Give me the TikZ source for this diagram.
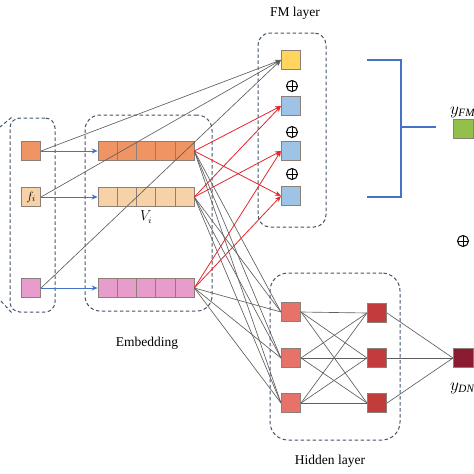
\documentclass[tikz,border=0pt]{standalone}
\usepackage{fontspec}
\setmainfont{Liberation Serif}
\usetikzlibrary{arrows.meta}
\definecolor{boxc}{HTML}{44546A}
\definecolor{cellb}{HTML}{8C7F78}
\definecolor{org}{HTML}{EE9563}
\definecolor{lorg}{HTML}{F6D2A6}
\definecolor{pnk}{HTML}{E79CCB}
\definecolor{ylw}{HTML}{FFD560}
\definecolor{blu}{HTML}{9DC3E6}
\definecolor{arrb}{HTML}{4472C4}
\definecolor{redl}{HTML}{E5262C}
\definecolor{h1c}{HTML}{E6726A}
\definecolor{h2c}{HTML}{C23C3C}
\definecolor{outc}{HTML}{8A1B30}
\definecolor{grn}{HTML}{92C04A}
\definecolor{grayl}{HTML}{5E5E5E}
\begin{document}
\begin{tikzpicture}[x=1pt,y=-1pt,
  sq/.style={draw=cellb, line width=0.6pt, minimum size=19.5pt, inner sep=0pt},
  vec/.style={draw=cellb, line width=0.6pt, minimum width=96pt, minimum height=19.5pt, inner sep=0pt,
    path picture={\foreach \k in {1,...,4}{\draw[cellb,line width=0.6pt] ([xshift=\k*19.2pt]path picture bounding box.north west) -- ([xshift=\k*19.2pt]path picture bounding box.south west);}}},
  dbox/.style={draw=boxc, line width=1pt, dash pattern=on 3.5pt off 2.5pt, inner sep=0pt},
  opl/.style={circle, draw=black, line width=1pt, minimum size=11pt, inner sep=0pt,
    path picture={\draw[line width=1pt] (path picture bounding box.north) -- (path picture bounding box.south) (path picture bounding box.west) -- (path picture bounding box.east);}},
  lbl/.style={font=\fontsize{13.5}{15}\selectfont, inner sep=0pt},
  gl/.style={draw=grayl, line width=0.65pt},
  rl/.style={draw=redl, line width=0.8pt, -{Stealth[length=6pt,width=5pt]}},
  bl/.style={draw=arrb, line width=0.9pt, -{Stealth[length=6pt,width=5pt]}},
]
\useasboundingbox (0,0) rectangle (474,474);
\clip (0,0) rectangle (474,474);

% dashed boxes
\node[dbox, rounded corners=10pt, minimum width=45pt, minimum height=194pt] (lbox) at (32.5,215) {};
\node[dbox, rounded corners=15pt, minimum width=127pt, minimum height=196pt] (ebox) at (148.5,213) {};
\node[dbox, rounded corners=12pt, minimum width=68pt, minimum height=194pt] (fbox) at (292,130) {};
\node[dbox, rounded corners=18pt, minimum width=130pt, minimum height=167pt] (hbox) at (335,356.5) {};
\coordinate (o1) at (0,127);
\coordinate (o2) at (0,300);
\draw[dbox] (lbox.north west) ++(2,0) -- (o1);
\draw[dbox] (lbox.south west) ++(2,0) -- (o2);

% labels
\node[lbl] (tfm) at (295,13) {FM layer};
\node[lbl] (temb) at (147,343) {Embedding};
\node[lbl] (thid) at (330,461) {Hidden layer};
\node[lbl] (tvi) at (146,217) {$V_i$};

% input squares
\node[sq, fill=org] (a1) at (31,151) {};
\node[sq, fill=lorg] (a2) at (31,197) {\fontsize{13}{14}\selectfont$f_i$};
\node[sq, fill=pnk] (a3) at (31,288) {};

% embedding vectors
\node[vec, fill=org] (e1) at (146,151) {};
\node[vec, fill=lorg] (e2) at (146,197) {};
\node[vec, fill=pnk] (e3) at (146,288) {};

% FM layer
\node[sq, fill=ylw] (f0) at (291,60) {};
\node[sq, fill=blu] (f1) at (291,106) {};
\node[sq, fill=blu] (f2) at (291,151) {};
\node[sq, fill=blu] (f3) at (291,196) {};
\node[opl] (p1) at (292,86) {};
\node[opl] (p2) at (292,132) {};
\node[opl] (p3) at (292,174) {};

% hidden layers
\node[sq, fill=h1c] (h1) at (291,312) {};
\node[sq, fill=h1c] (h2) at (291,358) {};
\node[sq, fill=h1c] (h3) at (291,403) {};
\node[sq, fill=h2c] (k1) at (377,313) {};
\node[sq, fill=h2c] (k2) at (377,358) {};
\node[sq, fill=h2c] (k3) at (377,403) {};

% outputs
\node[sq, fill=outc, anchor=west] (ydnn) at (453,358) {};
\node[sq, fill=grn, anchor=west] (yfm) at (453,129) {};
\node[lbl, anchor=west, font=\fontsize{16}{18}\selectfont] (tyfm) at (450,112) {$y_{\mathit{FM}}$};
\node[lbl, anchor=west, font=\fontsize{16}{18}\selectfont] (tydnn) at (450,388) {$y_{\mathit{DNN}}$};
\node[opl] (pout) at (463,241) {};

% gray lines to yellow
\foreach \a in {a1,a2,a3}{\draw[gl, -{Stealth[length=6pt,width=5pt]}] (\a.east) -- (f0.west);}

% embedding arrows
\foreach \i in {1,2,3}{\draw[bl] (a\i.east) -- (e\i.west);}

% red arrows
\draw[rl] (e1.east) -- (f1.west);
\draw[rl] (e1.east) -- (f3.west);
\draw[rl] (e2.east) -- (f1.west);
\draw[rl] (e2.east) -- (f2.west);
\draw[rl] (e3.east) -- (f2.west);
\draw[rl] (e3.east) -- (f3.west);

% embedding to hidden
\foreach \i in {1,2,3}{\foreach \j in {1,2,3}{\draw[gl] (e\i.east) -- (h\j.west);}}
\foreach \i in {1,2,3}{\foreach \j in {1,2,3}{\draw[gl] (h\i.east) -- (k\j.west);}}
\foreach \i in {1,2,3}{\draw[gl] (k\i.east) -- (ydnn.west);}

% bracket
\coordinate (bt) at (367,60);
\coordinate (bb) at (367,197);
\coordinate (bm) at (436,127);
\draw[arrb, line width=1.1pt] (bt) -- (401,60) -- (401,197) -- (bb);
\draw[arrb, line width=1.1pt] (401,127) -- (bm);
\end{tikzpicture}
\end{document}
